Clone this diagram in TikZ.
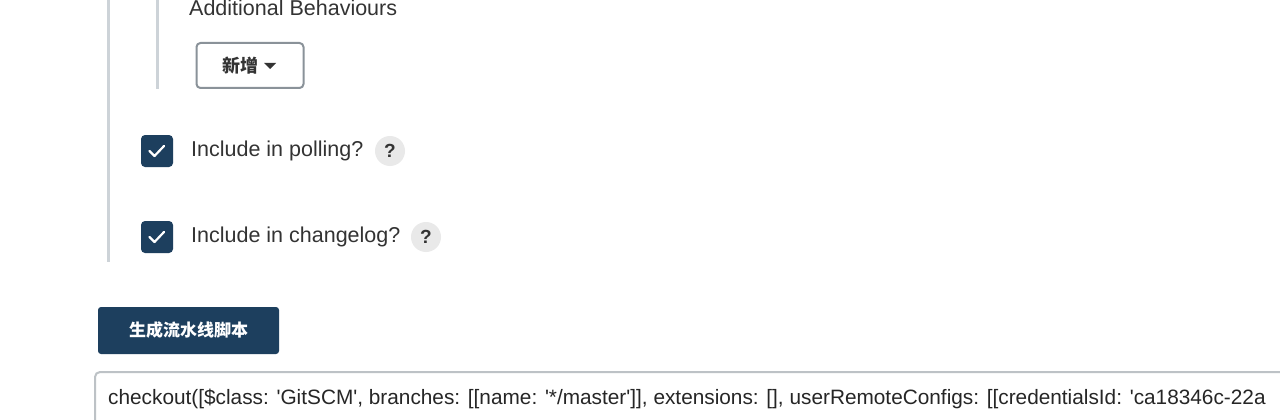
\documentclass[tikz,border=0pt]{standalone}
\usepackage{fontspec}
\setmainfont{Liberation Sans}
\newfontfamily\codefont{Liberation Sans}
\newfontfamily\cjk{Noto Sans CJK SC}
\definecolor{navy}{HTML}{1D3F5E}
\definecolor{txt}{HTML}{333333}
\definecolor{rule}{HTML}{CDD3D8}
\definecolor{btnb}{HTML}{8A9299}
\definecolor{helpbg}{HTML}{E9E9E9}
\tikzset{
 lbl/.style={anchor=west,inner sep=0pt,text=txt,font=\fontsize{21.5}{21.5}\selectfont},
 cbox/.style={fill=navy,rounded corners=4pt,minimum size=32pt,inner sep=0pt},
 help/.style={circle,fill=helpbg,minimum size=30pt,inner sep=0pt,font=\bfseries\fontsize{19}{19}\selectfont,text=txt},
 chk/.style={white,line width=2.2pt,line cap=round,line join=round}
}
\begin{document}
\begin{tikzpicture}[x=1pt,y=-1pt]
\useasboundingbox[fill=white] (0,0) rectangle (1280,420);
\draw[rule,line width=3pt] (108,0) -- (108,262);
\draw[rule,line width=3pt] (157,0) -- (157,89);
\node[lbl] (ab) at (189,8) {Additional Behaviours};
\node[draw=btnb,line width=2pt,rounded corners=4pt,minimum width=107pt,minimum height=45pt,inner sep=0pt] (add) at (250,65.5) {};
\node[inner sep=0pt,text=txt,font=\cjk\bfseries\fontsize{18}{18}\selectfont] (addt) at (240,66) {新增};
\fill[txt] (264,63) -- (276,63) -- (270,69) -- cycle;
\foreach \y/\t/\hx/\n in {151/Include in polling?/390/a, 237/Include in changelog?/426/b}{
 \node[cbox] (cb\n) at (157,\y) {};
 \draw[chk] (149.5,\y) -- (154.5,\y+5) -- (164,\y-5);
 \node[lbl] (l\n) at (191,\y) {\t};
 \node[help] (h\n) at (\hx,\y) {?};
}
\node[fill=navy,rounded corners=3pt,minimum width=181pt,minimum height=47pt,inner sep=0pt,text=white,font=\cjk\bfseries\fontsize{17}{17}\selectfont] (gen) at (188.5,330.5) {生成流水线脚本};
\draw[rule!80!gray,line width=2pt,rounded corners=5pt] (1290,372) -- (95,372) -- (95,430);
\node[lbl,font=\codefont\fontsize{20.8}{20.8}\selectfont,text=black!85] (code) at (108,399) {checkout([\$class: 'GitSCM', branches: [[name: '*/master']], extensions: [], userRemoteConfigs: [[credentialsId: 'ca18346c-22a};
\end{tikzpicture}
\end{document}
